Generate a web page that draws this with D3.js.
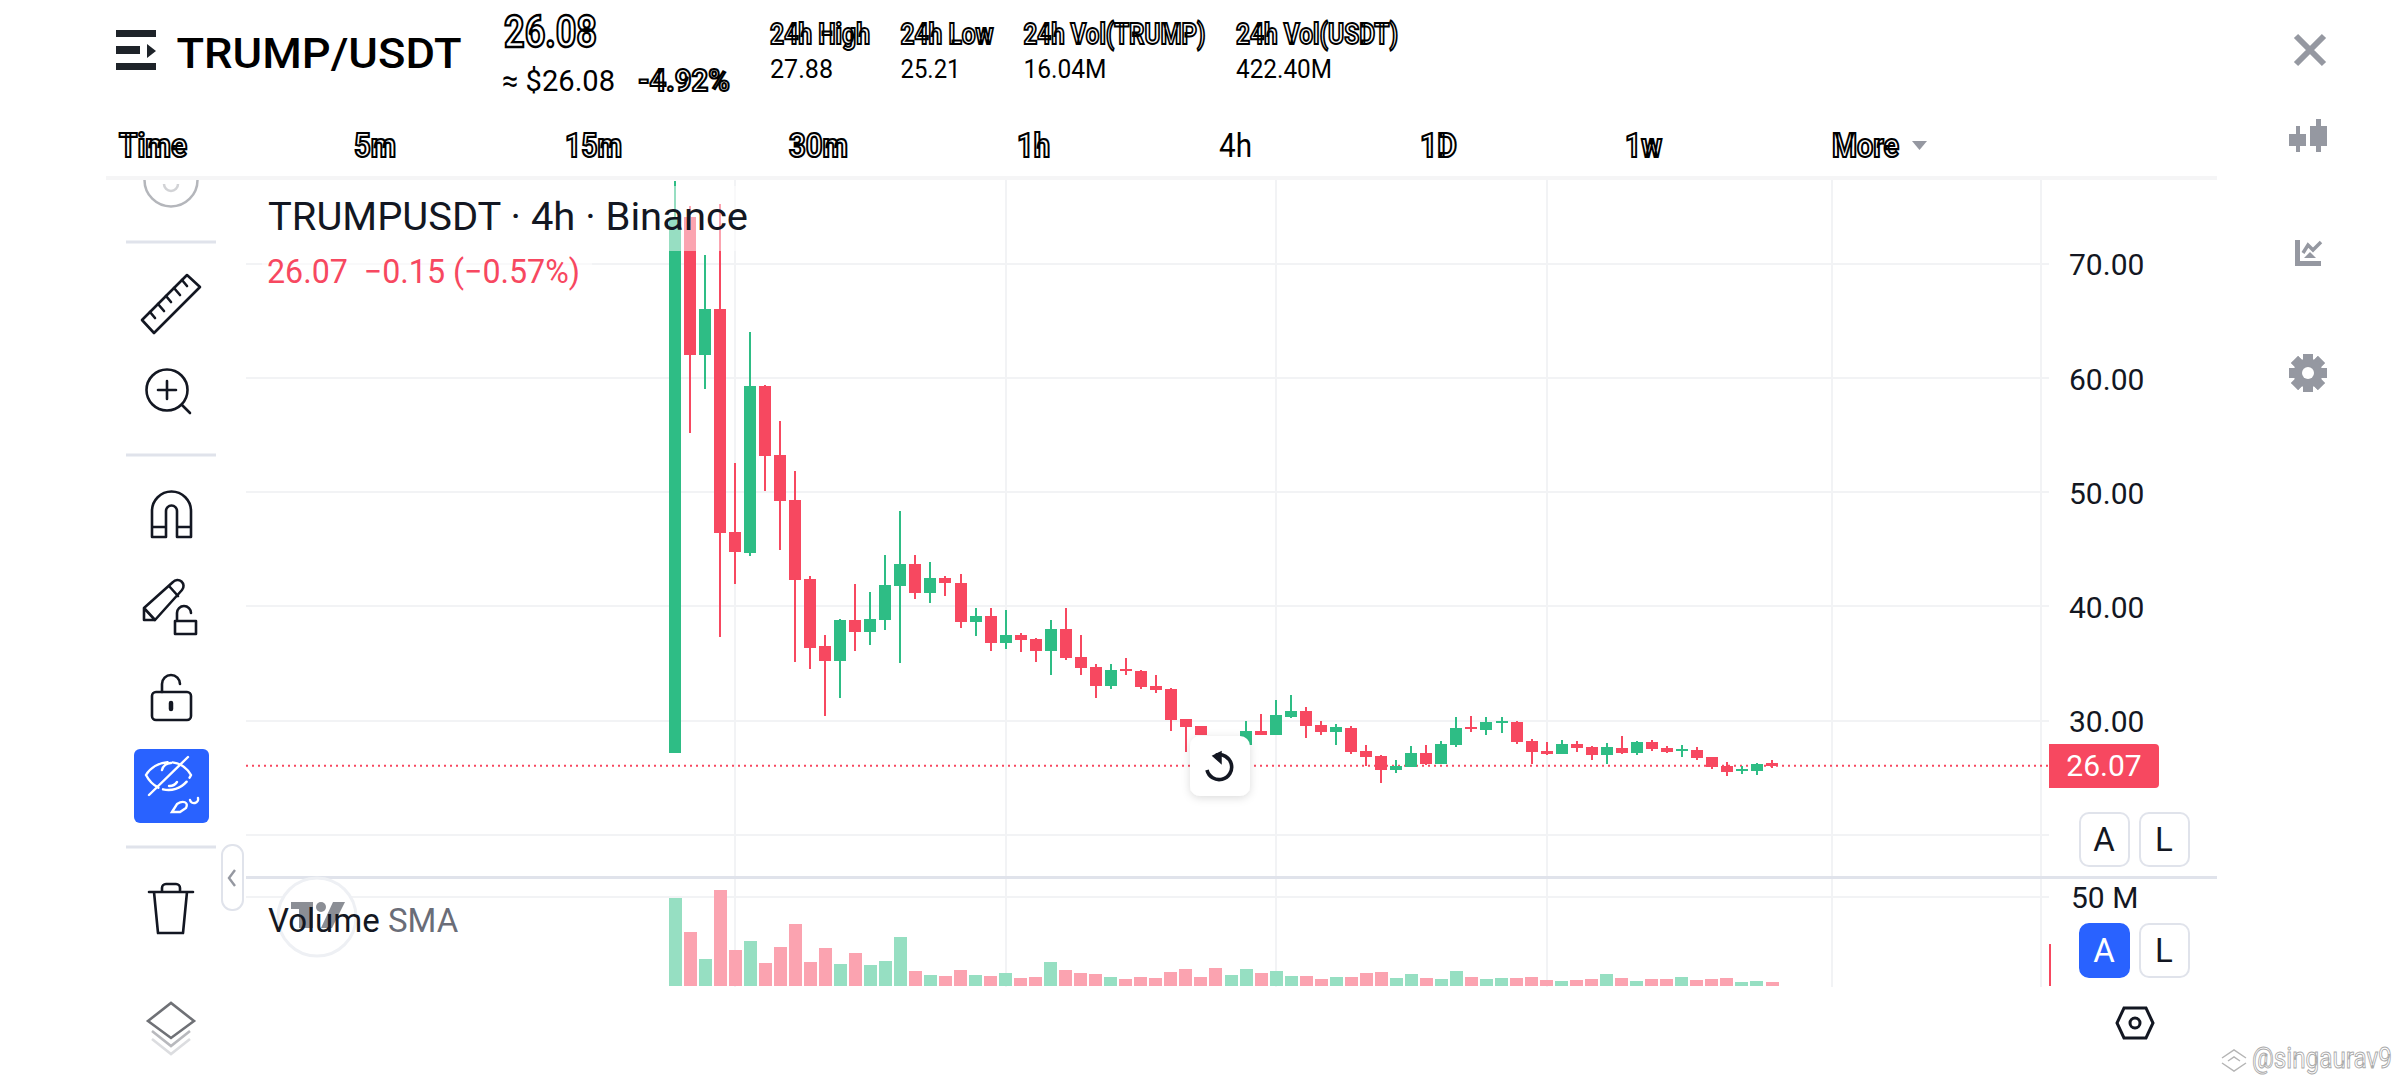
<!DOCTYPE html>
<html>
<head>
<meta charset="utf-8">
<title>TRUMP/USDT</title>
<script src="https://cdn.jsdelivr.net/npm/d3@7"></script>
<style>
  html, body { margin: 0; padding: 0; background: #fff; overflow: hidden; }
  text { font-family: Roboto, "Noto Sans", sans-serif; }
</style>
</head>
<body>
<div id="chart"></div>
<script>
// 4h candles
var opens = [27.19,74.08,62.01,66.04,46.53,44.69,59.30,53.26,49.32,42.41,36.55,35.24,38.83,37.78,38.83,41.80,43.73,41.19,42.50,42.06,
  38.65,39.18,36.81,37.51,37.16,36.11,38.04,35.59,34.71,33.05,34.54,34.36,33.05,32.79,30.16,29.55,28.60,27.20,27.89,29.12,
  28.76,30.34,30.86,29.64,29.03,29.38,27.36,26.93,25.70,25.97,27.19,26.23,27.89,29.47,29.20,29.81,29.90,28.24,27.36,27.10,
  27.98,27.72,27.01,27.63,27.19,28.15,27.63,27.36,27.45,26.84,26.05,25.61,25.61,26.31];
var highs = [77.23,75.05,70.76,75.22,52.56,64.02,59.39,56.24,51.86,42.68,37.51,38.91,41.98,41.28,44.51,48.36,44.51,43.90,42.68,42.85,
  39.88,39.88,39.70,37.69,37.25,38.83,39.88,37.51,34.98,34.98,35.50,34.45,34.01,32.88,30.16,29.55,28.60,28.30,29.99,30.60,
  31.83,32.26,31.21,29.99,29.73,29.55,27.89,27.01,26.58,27.80,27.89,28.24,30.34,30.43,30.34,30.34,29.99,28.41,28.15,28.33,
  28.24,27.80,28.06,28.68,28.24,28.33,27.80,27.89,27.72,26.84,26.40,26.05,26.31,26.58];
var lows = [27.19,55.19,59.04,37.34,41.98,44.43,50.11,44.95,35.15,34.54,30.43,32.00,36.11,36.64,37.95,35.06,40.66,40.31,40.93,38.13,
  37.43,36.11,36.29,36.03,35.15,34.01,35.33,34.01,32.00,32.79,34.01,32.79,32.44,29.12,27.28,28.76,26.90,26.90,27.28,28.76,
  28.76,30.25,28.50,28.76,27.89,27.10,26.05,24.57,25.44,25.97,26.14,26.23,27.72,29.03,28.76,28.94,27.98,26.23,27.01,27.10,
  27.28,26.58,26.23,27.10,27.01,27.36,27.19,26.84,26.58,25.79,25.18,25.35,25.26,25.88];
var closes = [74.08,62.01,66.04,46.44,44.78,59.30,53.17,49.24,42.33,36.38,35.24,38.83,37.78,38.91,41.89,43.73,41.19,42.50,42.06,38.65,
  39.18,36.81,37.51,37.08,36.11,38.04,35.50,34.63,33.05,34.45,34.36,32.96,32.70,30.08,29.47,28.76,27.20,28.00,29.12,28.76,
  30.51,30.86,29.55,29.03,29.47,27.28,26.84,25.70,26.05,27.19,26.23,27.98,29.38,29.29,29.90,29.99,28.15,27.28,27.10,27.98,
  27.63,27.01,27.72,27.19,28.15,27.54,27.28,27.54,26.75,25.97,25.53,25.79,26.23,26.07];
// volume in millions
var volumes = [49.3,30.2,15.1,53.7,20.2,25.2,12.9,21.8,34.7,13.4,21.3,12.3,18.5,11.8,14.0,27.4,8.4,6.2,5.6,9.0,
  6.2,5.6,7.3,4.5,5.0,13.4,9.0,7.3,6.7,5.0,3.9,5.0,4.5,7.8,9.5,5.0,10.1,6.2,9.5,7.3,
  8.4,5.6,5.6,3.9,5.0,5.0,7.3,7.8,4.5,6.7,4.5,3.9,8.4,5.0,3.9,4.5,4.5,5.0,3.4,2.8,
  3.4,3.9,6.7,4.5,2.8,3.9,3.9,5.0,3.4,3.9,4.5,2.2,2.8,2.2];

var gridPrices = [20, 30, 40, 50, 60, 70];
var priceLabels = [30, 40, 50, 60, 70];
var lastPrice = 26.07;
var volumeLabels = [50];
var clippedVolume = 23.5;

// bar number each time label sits on
var timeBars = [4, 22, 40, 58, 77, 91];
var timeLabels = ["20", "23", "26", "29", "Feb", "10:30"];

var intervals = ["Time", "5m", "15m", "30m", "1h", "4h", "1D", "1w", "More"];
var statNames = ["24h High", "24h Low", "24h Vol(TRUMP)", "24h Vol(USDT)"];
var statValues = ["27.88", "25.21", "16.04M", "422.40M"];

var green = "#2ebd85", red = "#f74860", ink = "#131722", line = "#e0e3eb", grid = "#f2f3f5", grey = "#9598a1";

var svg = d3.select("#chart").append("svg")
  .attr("width", 2400)
  .attr("height", 1080)
  .style("display", "block");

svg.append("rect").attr("width", 2400).attr("height", 1080).attr("fill", "#fff");

var defs = svg.append("defs");
defs.append("clipPath").attr("id", "paneClip").append("rect")
  .attr("x", 246).attr("y", 176).attr("width", 1803).attr("height", 904);
defs.append("clipPath").attr("id", "topClip").append("rect")
  .attr("x", 100).attr("y", 180).attr("width", 140).attr("height", 40);
var shadow = defs.append("filter").attr("id", "btnShadow")
  .attr("x", "-30%").attr("y", "-30%").attr("width", "160%").attr("height", "160%");
shadow.append("feDropShadow").attr("dx", 0).attr("dy", 2).attr("stdDeviation", 4)
  .attr("flood-color", "#000").attr("flood-opacity", 0.14);

// Scales
var x = d3.scaleLinear().domain([0, 73]).range([675, 1772]);
var y = d3.scaleLinear().domain([70, 20]).range([263.7, 835]);
var vy = d3.scaleLinear().domain([0, 50]).range([986, 896.7]);

// Grid
var gridG = svg.append("g").attr("shape-rendering", "crispEdges");
gridG.selectAll(".hgrid").data(gridPrices).enter().append("line")
  .attr("x1", 246).attr("x2", 2049)
  .attr("y1", function(d) { return y(d); }).attr("y2", function(d) { return y(d); })
  .attr("stroke", grid).attr("stroke-width", 2);
gridG.selectAll(".vhgrid").data(volumeLabels).enter().append("line")
  .attr("x1", 246).attr("x2", 2049)
  .attr("y1", function(d) { return vy(d); }).attr("y2", function(d) { return vy(d); })
  .attr("stroke", grid).attr("stroke-width", 2);
gridG.selectAll(".vgrid").data(timeBars.slice(0, 5)).enter().append("line")
  .attr("x1", function(d) { return x(d); }).attr("x2", function(d) { return x(d); })
  .attr("y1", 176).attr("y2", 987)
  .attr("stroke", grid).attr("stroke-width", 2);
gridG.append("line").attr("x1", 2041).attr("x2", 2041).attr("y1", 176).attr("y2", 987)
  .attr("stroke", grid).attr("stroke-width", 2);

// header band and pane divider
gridG.append("rect").attr("x", 106).attr("y", 176).attr("width", 2111).attr("height", 4).attr("fill", "#f5f5f6");
gridG.append("rect").attr("x", 246).attr("y", 875.5).attr("width", 1971).attr("height", 3).attr("fill", line);

// Volume bars
var bars = d3.range(opens.length);
svg.append("g").attr("shape-rendering", "crispEdges").selectAll("rect").data(bars).enter().append("rect")
  .attr("x", function(i) { return x(i) - 6.5; })
  .attr("width", 13)
  .attr("y", function(i) { return vy(volumes[i]); })
  .attr("height", function(i) { return vy(0) - vy(volumes[i]); })
  .attr("fill", function(i) { return closes[i] >= opens[i] ? "#96dfc2" : "#fba3b0"; });

// sliver of a bar that pokes out at the edge of the price scale
svg.append("rect").attr("x", 2049).attr("width", 2)
  .attr("y", vy(clippedVolume)).attr("height", vy(0) - vy(clippedVolume))
  .attr("fill", red);

// Last price line
svg.append("line")
  .attr("x1", 246).attr("x2", 2049)
  .attr("y1", y(lastPrice)).attr("y2", y(lastPrice))
  .attr("stroke", red).attr("stroke-width", 2)
  .attr("stroke-dasharray", "2 4");

// Candles
var candles = svg.append("g").attr("shape-rendering", "crispEdges")
  .selectAll("g").data(bars).enter().append("g")
  .attr("fill", function(i) { return closes[i] >= opens[i] ? green : red; });
candles.append("rect")
  .attr("x", function(i) { return x(i) - 1; })
  .attr("width", 2)
  .attr("y", function(i) { return y(highs[i]); })
  .attr("height", function(i) { return y(lows[i]) - y(highs[i]); });
candles.append("rect")
  .attr("x", function(i) { return x(i) - 6; })
  .attr("width", 12)
  .attr("y", function(i) { return y(Math.max(opens[i], closes[i])); })
  .attr("height", function(i) { return Math.max(2, Math.abs(y(opens[i]) - y(closes[i]))); });

// Axes
var priceAxis = d3.axisRight(y).tickValues(priceLabels).tickFormat(d3.format(".2f")).tickSize(0).tickPadding(20);
var pa = svg.append("g").attr("transform", "translate(2049,0)").call(priceAxis);
var volAxis = d3.axisRight(vy).tickValues(volumeLabels).tickFormat(function(d) { return d + " M"; }).tickSize(0).tickPadding(22);
var va = svg.append("g").attr("transform", "translate(2049,0)").call(volAxis);
var timeAxis = d3.axisBottom(x).tickValues(timeBars).tickFormat(function(d, i) { return timeLabels[i]; }).tickSize(0).tickPadding(0);
var ta = svg.append("g").attr("transform", "translate(0,1002)").attr("clip-path", "url(#paneClip)").call(timeAxis);
[pa, va, ta].forEach(function(g) {
  g.select(".domain").remove();
  g.selectAll("text").attr("font-family", "Roboto").attr("font-size", 30).attr("fill", ink);
});
pa.selectAll("text").attr("dy", "0.37em");
va.selectAll("text").attr("dy", "0.37em");
ta.selectAll("text").filter(function(d, i) { return timeLabels[i] === "Feb"; }).attr("font-weight", 700);

// price tag
svg.append("path").attr("d", "M2049,744H2155a4,4 0 0 1 4,4V784a4,4 0 0 1 -4,4H2049Z").attr("fill", red);
svg.append("text").attr("x", 2104).attr("y", y(lastPrice)).attr("dy", "0.35em")
  .attr("text-anchor", "middle").attr("font-size", 30).attr("fill", "#fff").text(d3.format(".2f")(lastPrice));

// Scale buttons
function scaleBtn(bx, by, t, on) {
  svg.append("rect").attr("x", bx).attr("y", by).attr("width", 49).attr("height", 53).attr("rx", 9)
    .attr("fill", on ? "#2962ff" : "#fff").attr("stroke", on ? "#2962ff" : line).attr("stroke-width", 2);
  svg.append("text").attr("x", bx + 24).attr("y", by + 38).attr("text-anchor", "middle")
    .attr("font-size", 33).attr("fill", on ? "#fff" : ink).text(t);
}
scaleBtn(2080, 813, "A", false);
scaleBtn(2140, 813, "L", false);
scaleBtn(2080, 924, "A", true);
scaleBtn(2140, 924, "L", false);

// Settings hexagon under the price scale
svg.append("path").attr("d", "M2124,1008H2146L2153,1023L2146,1038H2124L2117,1023Z")
  .attr("fill", "none").attr("stroke", ink).attr("stroke-width", 3);
svg.append("circle").attr("cx", 2135).attr("cy", 1023).attr("r", 5)
  .attr("fill", "none").attr("stroke", ink).attr("stroke-width", 3);

// TradingView mark behind the volume legend
var tv = svg.append("g");
tv.append("circle").attr("cx", 317).attr("cy", 917).attr("r", 39).attr("fill", "#fff").attr("stroke", "#eef0f4").attr("stroke-width", 3);
tv.append("path").attr("d", "M291,902H313V928H299V909H291Z").attr("fill", "#8b8e95");
tv.append("circle").attr("cx", 321).attr("cy", 907).attr("r", 5).attr("fill", "#8b8e95");
tv.append("path").attr("d", "M333,902H345L332,928H321Z").attr("fill", "#8b8e95");

// Legends, white wash first so the candles fade under the text
svg.append("rect").attr("x", 262).attr("y", 186).attr("width", 490).attr("height", 65).attr("fill", "#fff").attr("fill-opacity", 0.5);
svg.append("rect").attr("x", 262).attr("y", 252).attr("width", 330).attr("height", 40).attr("fill", "#fff").attr("fill-opacity", 0.5);

function label(tx, ty, t, size, o) {
  o = o || {};
  var el = svg.append("text").attr("x", tx).attr("y", ty).attr("font-size", size)
    .attr("fill", o.fill || ink).attr("font-weight", o.weight || 400).text(t);
  if (o.width) el.attr("textLength", o.width).attr("lengthAdjust", "spacingAndGlyphs");
  if (o.outline) el.attr("stroke", "#000").attr("stroke-width", o.outline).attr("fill", "#fff").attr("font-weight", 700);
  return el;
}

label(268, 230, "TRUMPUSDT · 4h · Binance", 38, { width: 480 });
label(267, 283, "26.07  −0.15 (−0.57%)", 33, { fill: red, width: 313 }).attr("xml:space", "preserve");
var volLegend = label(268, 932, "Volume", 33);
volLegend.append("tspan").attr("fill", "#6a6d78").text(" SMA");

// Top header
svg.append("g").attr("fill", "#1e2329").call(function(g) {
  g.append("rect").attr("x", 116).attr("y", 30).attr("width", 40).attr("height", 7);
  g.append("rect").attr("x", 116).attr("y", 46).attr("width", 24).attr("height", 8);
  g.append("rect").attr("x", 116).attr("y", 63).attr("width", 40).attr("height", 7);
  g.append("path").attr("d", "M147,44L156,51L147,58Z");
});
label(176.5, 68, "TRUMP/USDT", 43, { weight: 500, fill: "#000", width: 285 });
label(504, 47, "26.08", 44, { outline: 2.4, width: 93 });
label(502, 91, "≈ $26.08", 30, { fill: "#000", width: 113 });
label(638, 91, "-4.92%", 32, { outline: 2.2, width: 92 });

var statX = [770, 900.5, 1023.5, 1236];
var statW = [100, 93, 182, 162];
var valueW = [63, 60, 83, 96];
statNames.forEach(function(n, i) {
  label(statX[i], 44, n, 29, { outline: 2, width: statW[i] });
  label(statX[i], 78, statValues[i], 26, { fill: "#000", width: valueW[i] });
});

// Interval row
var intX = [119, 354, 565, 789, 1017, 1219, 1420, 1625, 1832];
var intW = [68, 42, 57, 59, 33, 33, 37, 37, 67];
intervals.forEach(function(n, i) {
  label(intX[i], 157, n, 33, n === "4h" ? { fill: "#000", width: intW[i] } : { outline: 2.2, width: intW[i] });
});
svg.append("path").attr("d", "M1912,141H1927L1919.5,150Z").attr("fill", grey);

// Left toolbar
var tools = svg.append("g").attr("fill", "none").attr("stroke", ink).attr("stroke-width", 2.6)
  .attr("stroke-linejoin", "round").attr("stroke-linecap", "round");
[242, 455, 847].forEach(function(d) {
  svg.append("rect").attr("x", 126).attr("y", d - 1.5).attr("width", 90).attr("height", 3).attr("fill", line);
});

// half hidden circle at the top
var topIcon = svg.append("g").attr("clip-path", "url(#topClip)").attr("fill", "none").attr("stroke", "#b4b6bb");
topIcon.append("circle").attr("cx", 171).attr("cy", 180).attr("r", 26.5).attr("stroke-width", 2.5);
topIcon.append("path").attr("d", "M164,184a7,7 0 0 0 14,0").attr("stroke-width", 2.5).attr("stroke", "#d2d3d6");

// ruler
tools.append("path").attr("d", "M142,320L187,275L200,287L154,333Z");
tools.append("path").attr("d", "M150,312l5,6M158,304l6,7M166,296l5,6M174,288l6,7M182,280l5,6");
// zoom
tools.append("circle").attr("cx", 167).attr("cy", 390).attr("r", 20.5);
tools.append("path").attr("d", "M167,381V399M158,390H176M182,405L190,413");
// magnet
tools.append("path").attr("d", "M152,537V511a19.5,19.5 0 0 1 39,0V537H177V511a5.5,5.5 0 0 0 -11,0V537ZM152,527H166M177,527H191");
// pencil with small lock
tools.append("path").attr("d", "M144,620V608L173,582a6,6 0 0 1 9,8L155,620ZM144,608L155,620M169,586L178,596");
tools.append("path").attr("d", "M177,621V613a7,7 0 0 1 14,0M175,621H196V634H175Z");
// unlocked padlock
tools.append("rect").attr("x", 152).attr("y", 692).attr("width", 39).attr("height", 28).attr("rx", 4);
tools.append("path").attr("d", "M162,692V684a9,9 0 0 1 18,0");
tools.append("path").attr("d", "M171,703V709").attr("stroke-width", 4.5);

// blue hide button
svg.append("rect").attr("x", 134).attr("y", 749).attr("width", 75).attr("height", 74).attr("rx", 6).attr("fill", "#2962ff");
var hide = svg.append("g").attr("fill", "none").attr("stroke", "#fff").attr("stroke-width", 2.4).attr("stroke-linecap", "round");
hide.append("path").attr("d", "M146,775C155,760 180,756 191,775C182,794 157,796 146,775Z").attr("stroke-dasharray", "26 5");
hide.append("path").attr("d", "M162,770a9,9 0 0 1 9,-7M177,782a9,9 0 0 1 -8,4");
hide.append("path").attr("d", "M149,795L188,757");
hide.append("path").attr("d", "M172,812L177,804C183,800 189,802 186,808L180,812ZM190,800a4,4 0 0 0 8,-2");

// sidebar collapse tab
svg.append("rect").attr("x", 222).attr("y", 845).attr("width", 21).attr("height", 65).attr("rx", 10).attr("fill", "#fff").attr("stroke", line).attr("stroke-width", 2);
svg.append("path").attr("d", "M235,870L229,878L235,886").attr("fill", "none").attr("stroke", grey).attr("stroke-width", 2.4);

// trash
tools.append("path").attr("d", "M149,892H193M154,892L158,933H183L187,892M162,892V888a4,4 0 0 1 4,-4H176a4,4 0 0 1 4,4V892");

// layers, fading downwards
var layers = svg.append("g").attr("fill", "none").attr("stroke-width", 2.6);
layers.append("path").attr("d", "M148,1021L171,1003L194,1021L171,1038Z").attr("stroke", "#6f7176");
layers.append("path").attr("d", "M152,1031L171,1046L190,1031").attr("stroke", "#b8b9bd");
layers.append("path").attr("d", "M152,1039L171,1054L190,1039").attr("stroke", "#dcdde0");

// Right side icons
var rIcons = svg.append("g");
rIcons.append("path").attr("d", "M2296,36L2324,64M2324,36L2296,64").attr("stroke", grey).attr("stroke-width", 6).attr("fill", "none");
rIcons.append("path").attr("fill", grey)
  .attr("d", "M2296,126H2300V134H2306V146H2300V152H2296V146H2289V134H2296ZM2316,119H2321V126H2327V146H2321V152H2316V146H2310V126H2316Z");
rIcons.append("path").attr("d", "M2297.5,240V263.5H2321").attr("stroke", grey).attr("stroke-width", 5).attr("fill", "none");
rIcons.append("path").attr("d", "M2303,253L2308,245L2313,250L2321,242").attr("stroke", grey).attr("stroke-width", 3.5).attr("fill", "none");
rIcons.append("path").attr("d", "M2310,252L2316,258H2304Z").attr("fill", grey);
// gear
var gearTeeth = d3.range(8);
rIcons.selectAll(".tooth").data(gearTeeth).enter().append("rect")
  .attr("x", 2303).attr("y", 354).attr("width", 10).attr("height", 38).attr("fill", grey)
  .attr("transform", function(d) { return "rotate(" + d * 45 + " 2308 373)"; });
rIcons.append("circle").attr("cx", 2308).attr("cy", 373).attr("r", 14.5).attr("fill", grey);
rIcons.append("circle").attr("cx", 2308).attr("cy", 373).attr("r", 6).attr("fill", "#fff");

// Reset button over the chart
svg.append("rect").attr("x", 1190).attr("y", 736).attr("width", 60).attr("height", 60).attr("rx", 10)
  .attr("fill", "#fff").attr("filter", "url(#btnShadow)");
svg.append("path").attr("d", "M1216,755A12.5,12.5 0 1 1 1207,770").attr("fill", "none").attr("stroke", ink).attr("stroke-width", 3.6);
svg.append("path").attr("d", "M1221,752V763L1213,756Z").attr("fill", ink).attr("stroke", ink).attr("stroke-width", 1.5);

// Watermark
var wm = svg.append("g").attr("fill", "none").attr("stroke", "#b5b5b5").attr("stroke-width", 1.5);
wm.append("path").attr("d", "M2222,1058L2234,1050L2246,1058M2228,1061L2234,1057L2240,1061M2222,1063L2234,1071L2246,1063");
svg.append("text").attr("x", 2252).attr("y", 1068).attr("font-size", 30)
  .attr("fill", "#fff").attr("stroke", "#aaa").attr("stroke-width", 1)
  .attr("textLength", 140).attr("lengthAdjust", "spacingAndGlyphs").text("@singaurav9");
</script>
</body>
</html>
